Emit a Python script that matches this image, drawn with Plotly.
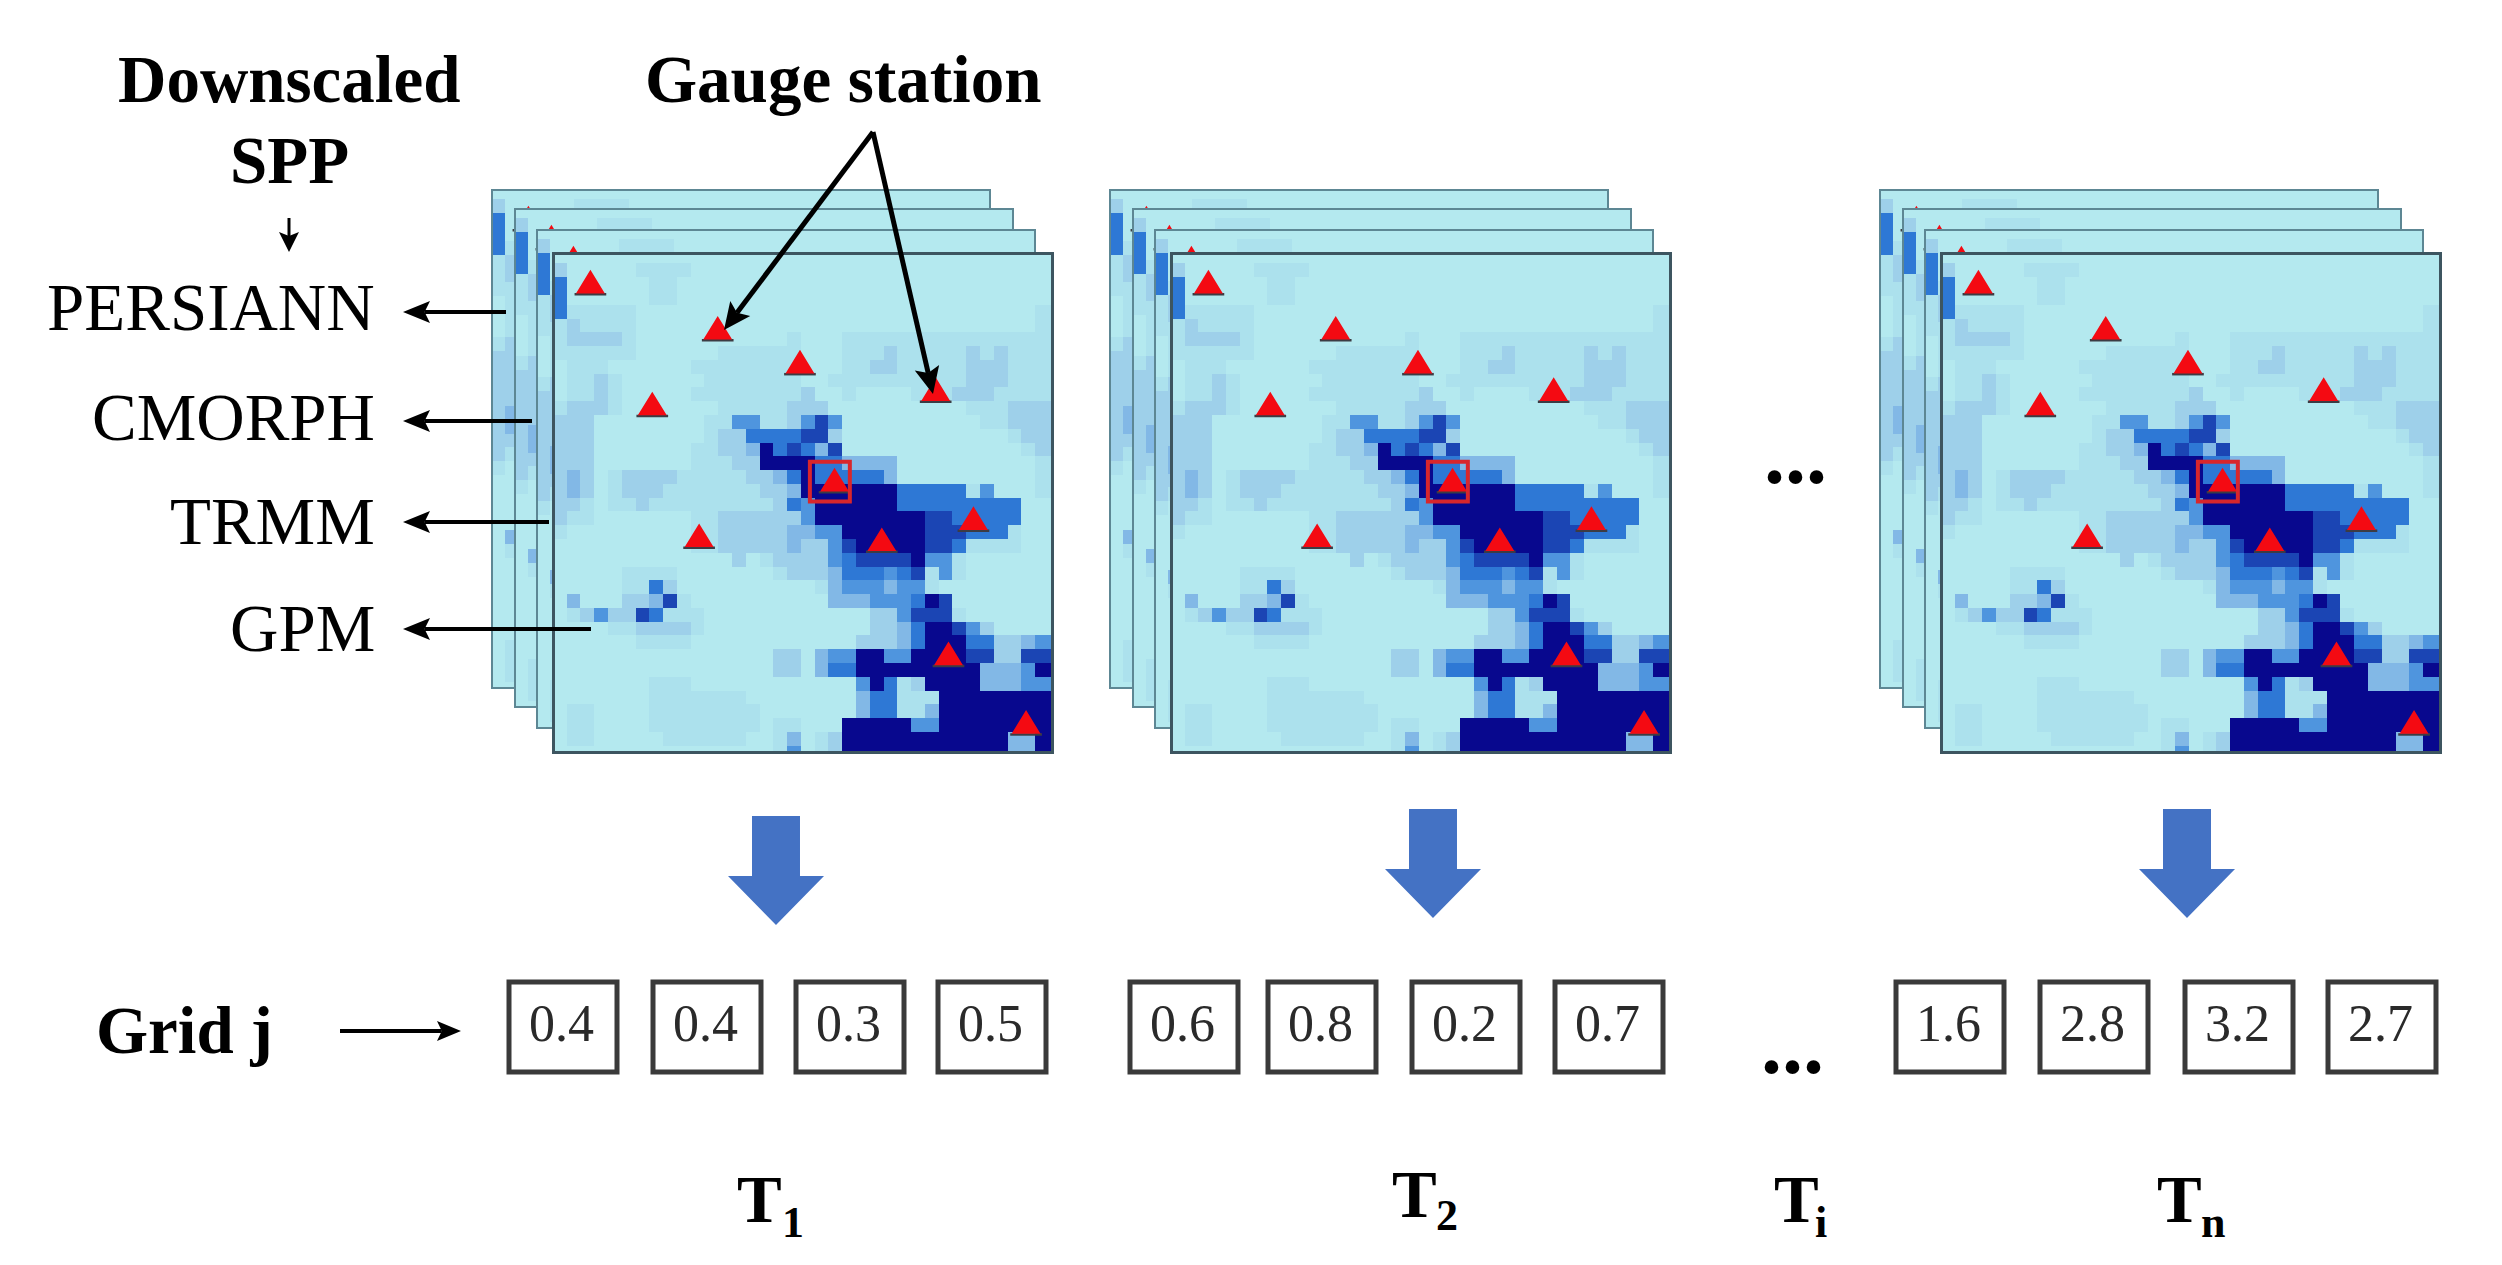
#Downscaled SPP stacks per time step, with the values of one grid cell below
import math
import plotly.graph_objects as go

W = 2502
H = 1265

# rain map, one string per row, colour level 0-7 per cell
rain_map = [
    "000000000000000000" + "000000000000000000",
    "200000111100000000" + "000000000000000000",
    "500000011000000000" + "000000000000000000",
    "500000011000000000" + "000000000000000000",
    "511111000000000000" + "000000000000000001",
    "121111000000000000" + "000000000000000001",
    "122221000000000001" + "000111111111111111",
    "111111000000111111" + "000111211111212111",
    "011100000011111111" + "000112211111222111",
    "011210000001111111" + "001111111111222111",
    "011210000011111111" + "200100001112221111",
    "122210000000111112" + "220000000000111222",
    "222000000001144112" + "464000000000011222",
    "222000000001225555" + "662000000000000122",
    "222000000011223756" + "536000000000000012",
    "222000000011122777" + "755333300000000001",
    "232012222111112235" + "755555300000000001",
    "232012221111111223" + "777777755555140001",
    "221011211111111125" + "477777755555555500",
    "211000000011222222" + "477777777665555500",
    "100000000011222223" + "344777777666555100",
    "000000000011222223" + "224677777665111100",
    "000000000000020122" + "224566667441000000",
    "000001111000000012" + "223555456141000000",
    "000001152000000000" + "013444344100000000",
    "030002236100000000" + "003334445760000000",
    "012422651110000000" + "000002246661000000",
    "000011222210000000" + "000002235776420000",
    "000000111100000000" + "000022235777552234",
    "000000000000000022" + "034477447777662266",
    "000000000000000022" + "035577777777733347",
    "000000011100000000" + "000047512777733344",
    "000000011111110000" + "000035511177777777",
    "011000011111111000" + "000035511377777777",
    "011000011111111011" + "000777774477777777",
    "011000001111110013" + "012777777777777337",
    "000000000000000014" + "012777777777777337",
]
level_colors = ["#b4e9ef", "#ace1ed", "#9ed0ea", "#82b8e6", "#4f95de", "#2e78d5", "#1b45b4", "#08088e"]

# gauge stations in map cells, row is the base of the triangle
station_col = [2.57, 11.81, 17.78, 7.06, 27.63, 20.29, 10.46, 30.37, 23.72, 28.56, 34.19]
station_row = [2.79, 6.14, 8.6, 11.64, 10.6, 17.17, 21.2, 19.96, 21.49, 29.78, 34.75]
grid_box_col = [18.5, 21.4]
grid_box_row = [15.0, 17.9]

products = ["PERSIANN", "CMORPH", "TRMM", "GPM"]
grid_values = [
    ["0.4", "0.4", "0.3", "0.5"],
    ["0.6", "0.8", "0.2", "0.7"],
    ["1.6", "2.8", "3.2", "2.7"],
]
time_subs = ["1", "2", "i", "n"]

# layout in page pixels
group_left = [555, 1173, 1943]
group_top = 255
panel = 496
stack_dx = [-62, -39, -17, 0]
stack_dy = [-64, -45, -24, 0]
edge_colors = ["#5d8794", "#5d8794", "#5d8794", "#3d5560"]
box_left = [[509, 653, 796, 938], [1130, 1268, 1412, 1555], [1896, 2040, 2185, 2328]]
box_top, box_bottom, box_w = 982, 1072, 108
big_arrow_x = [776, 1433, 2187]
big_arrow_top = [816, 809, 809]
time_x = [759, 1414, 1796, 2179]
time_base = [1222, 1217, 1222, 1222]
sub_x = [793, 1447, 1821, 2213]
sub_base = [1237, 1230, 1237, 1237]
serif = "Liberation Serif"


def px(x):
    return x / W


def py(y):
    return 1 - y / H


def add_text(text, x, base, size=67, bold=False, anchor="center", color="black"):
    # base is the text baseline in page pixels
    label = "<b>" + text + "</b>" if bold else text
    fig.add_annotation(text=label, xref="paper", yref="paper", x=px(x), y=py(base - 0.3375 * size),
                       xanchor=anchor, yanchor="middle", showarrow=False,
                       font=dict(family=serif, size=size, color=color))


def add_polygon(points, color):
    path = "M " + " L ".join(f"{px(a):.5f},{py(b):.5f}" for a, b in points) + " Z"
    fig.add_shape(type="path", xref="paper", yref="paper", path=path, fillcolor=color, line=dict(width=0))


def add_arrow(x0, y0, x1, y1, width=4, length=25, spread=22):
    d = math.hypot(x1 - x0, y1 - y0)
    ux, uy = (x1 - x0) / d, (y1 - y0) / d
    nx, ny = -uy, ux
    neck_x, neck_y = x1 - 0.8 * length * ux, y1 - 0.8 * length * uy
    back_x, back_y = x1 - length * ux, y1 - length * uy
    fig.add_shape(type="line", xref="paper", yref="paper", x0=px(x0), y0=py(y0), x1=px(neck_x), y1=py(neck_y),
                  line=dict(color="black", width=width))
    add_polygon([(x1, y1), (back_x + nx * spread / 2, back_y + ny * spread / 2), (neck_x, neck_y),
                 (back_x - nx * spread / 2, back_y - ny * spread / 2)], "black")


z = [[int(c) for c in row] for row in rain_map]
col_edges = [0] + [0.85 + k for k in range(35)] + [36]
row_edges = [0] + [0.61 + k for k in range(36)] + [36]
colorscale = [[i / 7, c] for i, c in enumerate(level_colors)]

# triangles and their dark bases, one path per map
tri_x, tri_y, base_x, base_y = [], [], [], []
for c, r in zip(station_col, station_row):
    tri_x += [c - 1.05, c + 1.05, c, c - 1.05, None]
    tri_y += [r, r, r - 1.72, r, None]
    base_x += [c - 1.15, c + 1.15, None]
    base_y += [r + 0.05, r + 0.05, None]

fig = go.Figure()
n = 0
for left in group_left:
    for dx, dy, edge in zip(stack_dx, stack_dy, edge_colors):
        n += 1
        suffix = str(n)
        x0 = left + dx
        y0 = group_top + dy
        fig.add_trace(go.Heatmap(z=z, x=col_edges, y=row_edges, zmin=0, zmax=7, colorscale=colorscale,
                                 showscale=False, hoverinfo="skip", xaxis="x" + suffix, yaxis="y" + suffix))
        fig.add_trace(go.Scatter(x=base_x, y=base_y, mode="lines", line=dict(color="#3c3c44", width=2.5),
                                 hoverinfo="skip", xaxis="x" + suffix, yaxis="y" + suffix))
        fig.add_trace(go.Scatter(x=tri_x, y=tri_y, mode="lines", fill="toself", fillcolor="#f40a12",
                                 line=dict(width=0), hoverinfo="skip", xaxis="x" + suffix, yaxis="y" + suffix))
        axis = dict(showgrid=False, zeroline=False, showticklabels=False, ticks="", mirror=True,
                    showline=True, linecolor=edge, linewidth=3 if dx == 0 else 2)
        fig.update_layout({
            "xaxis" + suffix: dict(axis, domain=[px(x0), px(x0 + panel)], range=[0, 36],
                                   anchor="y" + suffix),
            "yaxis" + suffix: dict(axis, domain=[py(y0 + panel), py(y0)], range=[36, 0],
                                   anchor="x" + suffix),
        })
    # red box of grid j on the front map
    fig.add_shape(type="rect", xref="x" + str(n), yref="y" + str(n),
                  x0=grid_box_col[0], x1=grid_box_col[1], y0=grid_box_row[0], y1=grid_box_row[1],
                  line=dict(color="#d8262c", width=4))

# blue arrows
for x, top in zip(big_arrow_x, big_arrow_top):
    head = top + 60
    tip = top + 109
    add_polygon([(x - 24, top), (x + 24, top), (x + 24, head), (x + 48, head), (x, tip),
                 (x - 48, head), (x - 24, head)], "#4472c4")

# value boxes
for lefts, values in zip(box_left, grid_values):
    for left, value in zip(lefts, values):
        fig.add_shape(type="rect", xref="paper", yref="paper", x0=px(left), x1=px(left + box_w),
                      y0=py(box_bottom), y1=py(box_top), line=dict(color="#3a3a3a", width=5))
        add_text(value, left + box_w / 2 - 2, 1041, size=52, color="#2a2a2a")

# left labels
add_text("Downscaled", 289, 102, bold=True)
add_text("SPP", 289, 183, bold=True)
add_text("Gauge station", 843, 102, bold=True)
add_arrow(289, 218, 289, 252, width=3, length=20, spread=20)
add_arrow(873, 132, 724, 330, width=5, length=27, spread=25)
add_arrow(873, 132, 933, 394, width=5, length=27, spread=25)

for name, base, tail, y in zip(products, [330, 440, 544, 651], [506, 532, 549, 591], [312, 421, 522, 629]):
    add_text(name, 377, base, anchor="right")
    add_arrow(tail, y, 403, y, width=4, length=27, spread=22)

add_text("Grid j", 184, 1053, bold=True)
add_arrow(340, 1031, 461, 1031, width=4, length=24, spread=20)

add_text("...", 1795, 483, size=84, bold=True)
add_text("...", 1793, 1073, size=84, bold=True)

for sub, x, base, xs, bs in zip(time_subs, time_x, time_base, sub_x, sub_base):
    add_text("T", x, base, bold=True)
    add_text(sub, xs, bs, size=44, bold=True)

fig.update_layout(width=W, height=H, margin=dict(l=0, r=0, t=0, b=0), showlegend=False,
                  paper_bgcolor="white", plot_bgcolor="rgba(0,0,0,0)")
fig.write_html("out.html", config=dict(displayModeBar=False),
               post_script="document.body.style.margin='0';")
